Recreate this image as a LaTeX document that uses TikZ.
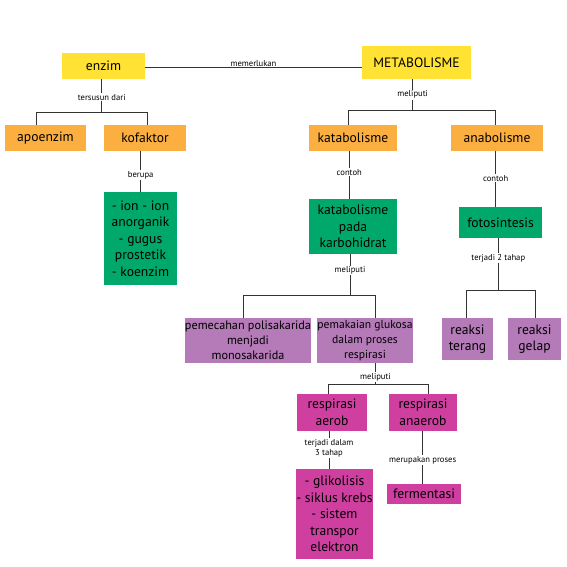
\documentclass[tikz,border=0pt]{standalone}
\usepackage{fontspec}
\setmainfont{PT Sans}
\definecolor{cyel}{HTML}{FFE234}
\definecolor{corg}{HTML}{FAAF40}
\definecolor{cgrn}{HTML}{00A86B}
\definecolor{cpur}{HTML}{B57AB8}
\definecolor{cmag}{HTML}{CF3FA0}
\definecolor{cline}{HTML}{333333}
\begin{document}
\begin{tikzpicture}[x=1pt,y=-1pt,
 box/.style={inner sep=0pt, align=center, font=\fontsize{13.6}{16.6}\selectfont, text=black},
 lab/.style={fill=white, inner sep=1pt, font=\fontsize{8.6}{10.6}\selectfont, align=center},
 conn/.style={draw=cline, line width=0.9pt}]
\fill[white] (0,0) rectangle (567,567);
\useasboundingbox (0,0) rectangle (567,567);

% nodes
\node[box, fill=cyel, minimum width=83pt, minimum height=26pt] (enzim) at (103.5,66) {enzim};
\node[box, fill=cyel, minimum width=109pt, minimum height=33pt] (metab) at (416.5,62.5) {METABOLISME};
\node[box, fill=corg, minimum width=81pt, minimum height=25pt] (apo) at (45.5,138) {apoenzim};
\node[box, fill=corg, minimum width=82pt, minimum height=25pt] (kof) at (145,138) {kofaktor};
\node[box, fill=corg, minimum width=88pt, minimum height=25pt] (kat) at (353,138) {katabolisme};
\node[box, fill=corg, minimum width=92pt, minimum height=25pt] (ana) at (497,138) {anabolisme};
\node[box, fill=cgrn, minimum width=73pt, minimum height=93pt] (ion) at (140.5,238.5) {- ion - ion\\anorganik\\- gugus\\prostetik\\- koenzim};
\node[box, fill=cgrn, minimum width=88pt, minimum height=55pt] (katkarb) at (353,226.5) {katabolisme\\pada\\karbohidrat};
\node[box, fill=cgrn, minimum width=83pt, minimum height=31pt] (foto) at (500.5,222.5) {fotosintesis};
\node[box, fill=cpur, minimum width=124pt, minimum height=45pt, font=\fontsize{12.2}{15}\selectfont] (pemecahan) at (248,340.5) {pemecahan polisakarida\\menjadi\\monosakarida};
\node[box, fill=cpur, minimum width=86pt, minimum height=45pt, font=\fontsize{11.6}{15}\selectfont] (pemakaian) at (365,340.5) {pemakaian glukosa\\dalam proses\\respirasi};
\node[box, fill=cpur, minimum width=51pt, minimum height=42pt] (terang) at (467.5,339) {reaksi\\terang};
\node[box, fill=cpur, minimum width=53pt, minimum height=42pt] (gelap) at (534.5,339) {reaksi\\gelap};
\node[box, fill=cmag, minimum width=70pt, minimum height=37pt] (aerob) at (332,412.5) {respirasi\\aerob};
\node[box, fill=cmag, minimum width=68pt, minimum height=37pt] (anaerob) at (423,412.5) {respirasi\\anaerob};
\node[box, fill=cmag, minimum width=75pt, minimum height=90pt] (tahap) at (334.5,514) {- glikolisis\\- siklus krebs\\- sistem\\transpor\\elektron};
\node[box, fill=cmag, minimum width=74pt, minimum height=20pt] (ferm) at (424,494) {fermentasi};

% junction coordinates
\coordinate (j1) at (101.7,112);
\coordinate (j1a) at (36.7,112);
\coordinate (j1b) at (147.7,112);
\coordinate (j2) at (412.7,110);
\coordinate (j2a) at (348.7,110);
\coordinate (j2b) at (495.7,110);
\coordinate (j3) at (350,295);
\coordinate (j3a) at (243.3,295);
\coordinate (j3b) at (375.3,295);
\coordinate (j4) at (498.3,290);
\coordinate (j4a) at (466.7,290);
\coordinate (j4b) at (535,290);
\coordinate (j5) at (375.5,384.3);
\coordinate (j5a) at (328.3,384.3);
\coordinate (j5b) at (428.3,384.3);

% connectors
\draw[conn] (enzim.east |- 0,67) -- (metab.west |- 0,67)
  node[lab, midway, above=-1pt, fill=none] {memerlukan};

\draw[conn] (j1 |- enzim.south) -- (j1) node[lab, pos=0.55] {tersusun dari};
\draw[conn] (j1a |- apo.north) -- (j1a) -- (j1b) -- (j1b |- kof.north);

\draw[conn] (j2 |- metab.south) -- (j2) node[lab, pos=0.5] {meliputi};
\draw[conn] (j2a |- kat.north) -- (j2a) -- (j2b) -- (j2b |- ana.north);

\draw[conn] (140.7,0 |- kof.south) -- (140.7,0 |- ion.north) node[lab, pos=0.6] {berupa};
\draw[conn] (349.3,0 |- kat.south) -- (349.3,0 |- katkarb.north) node[lab, pos=0.45] {contoh};
\draw[conn] (495.7,0 |- ana.south) -- (495.7,0 |- foto.north) node[lab, pos=0.49] {contoh};

\draw[conn] (j3 |- katkarb.south) -- (j3) node[lab, pos=0.4] {meliputi};
\draw[conn] (j3a |- pemecahan.north) -- (j3a) -- (j3b) -- (j3b |- pemakaian.north);

\draw[conn] (j4 |- foto.south) -- (j4) node[lab, pos=0.38] {terjadi 2 tahap};
\draw[conn] (j4a |- terang.north) -- (j4a) -- (j4b) -- (j4b |- gelap.north);

\draw[conn] (j5 |- pemakaian.south) -- (j5) node[lab, pos=0.67] {meliputi};
\draw[conn] (j5a |- aerob.north) -- (j5a) -- (j5b) -- (j5b |- anaerob.north);

\draw[conn] (329,0 |- aerob.south) -- (329,0 |- tahap.north) node[lab, pos=0.45] {terjadi dalam\\3 tahap};
\draw[conn] (422.7,0 |- anaerob.south) -- (422.7,0 |- ferm.north) node[lab, pos=0.55] {merupakan proses};
\end{tikzpicture}
\end{document}
